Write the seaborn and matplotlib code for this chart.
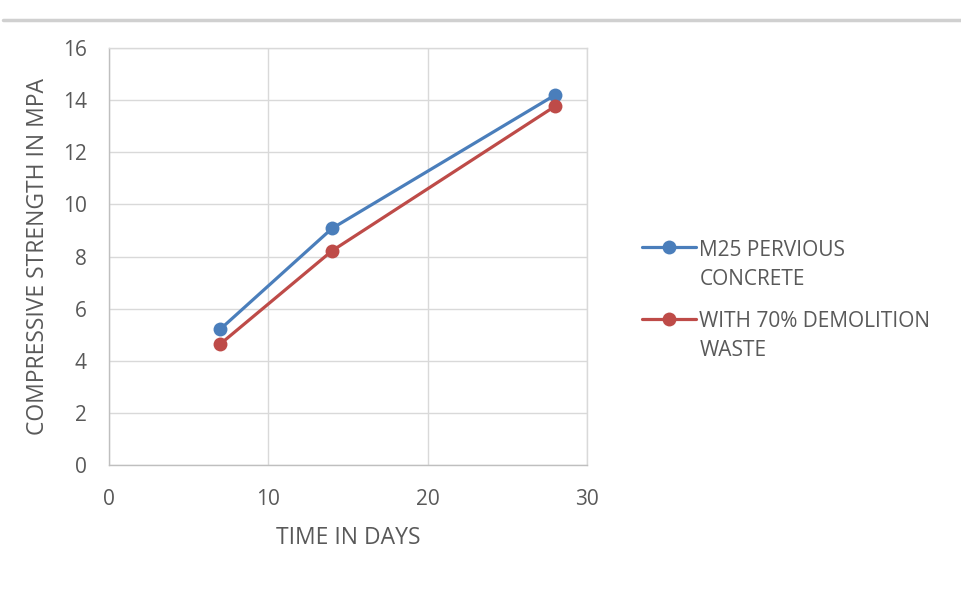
import numpy as np
import pandas as pd
import matplotlib
matplotlib.use('Agg')
import matplotlib.pyplot as plt
import seaborn as sn

"""compressive strength vs curing time, two mixes"""

days = [7, 14, 28]
m25_pervious = [5.22, 9.08, 14.2]
demolition_70 = [4.65, 8.22, 13.77]
series_names = ['M25 PERVIOUS\nCONCRETE', 'WITH 70% DEMOLITION\nWASTE']
x_ticks = [0, 10, 20, 30]
y_ticks = [0, 2, 4, 6, 8, 10, 12, 14, 16]

sn.set_style('white')
plt.rcParams['font.family'] = ['Open Sans', 'DejaVu Sans']

text_col = '#595959'
grid_col = '#D9D9D9'
colors = ['#4A7EBB', '#BE4B48']

df = pd.DataFrame({
    'days': days * 2,
    'strength': m25_pervious + demolition_70,
    'series': [series_names[0]] * len(days) + [series_names[1]] * len(days),
})

fig = plt.figure(figsize=(9.62, 5.95), dpi=100)
ax = fig.add_axes([0.1133, 0.2185, 0.4967, 0.7005])

sn.lineplot(data=df, x='days', y='strength', hue='series', palette=colors,
            marker='o', markersize=10, markeredgewidth=0, linewidth=2.3,
            ax=ax, legend=False)

ax.set_xlim(0, 30)
ax.set_ylim(0, 16)
ax.set_xticks(x_ticks)
ax.set_yticks(y_ticks)
ax.grid(True, color=grid_col, linewidth=1)
ax.set_axisbelow(True)
for sp in ax.spines.values():
    sp.set_color(grid_col)
    sp.set_linewidth(1)
ax.spines['left'].set_color('#BFBFBF')
ax.spines['bottom'].set_color('#BFBFBF')
ax.tick_params(axis='both', length=0, labelsize=15, labelcolor=text_col)
ax.tick_params(axis='x', pad=17)
ax.tick_params(axis='y', pad=16)
ax.set_xlabel('TIME IN DAYS', fontsize=16.5, color=text_col, labelpad=12)
ax.set_ylabel('COMPRESSIVE STRENGTH IN MPA', fontsize=16.5, color=text_col, labelpad=9)

# legend on the right, handle lined up with the first text line
handles = [plt.Line2D([], [], color=c, marker='o', markersize=10, markeredgewidth=0, linewidth=2.3)
           for c in colors]
leg = fig.legend(handles, series_names, loc='center left', bbox_to_anchor=(0.648, 0.495),
                 frameon=False, fontsize=15, labelcolor=text_col, handlelength=2.6,
                 handletextpad=0.15, labelspacing=1.05)
for t in leg.get_texts():
    t.set_linespacing(1.5)
for col in leg._legend_handle_box.get_children():
    for row in col.get_children():
        row.align = 'top'

# thin rule along the top
fig.add_artist(plt.Line2D([0.003, 1.0], [0.966, 0.966], color='#D0D0D0', linewidth=2.5))

plt.savefig('out.png', dpi=100)
plt.close()
